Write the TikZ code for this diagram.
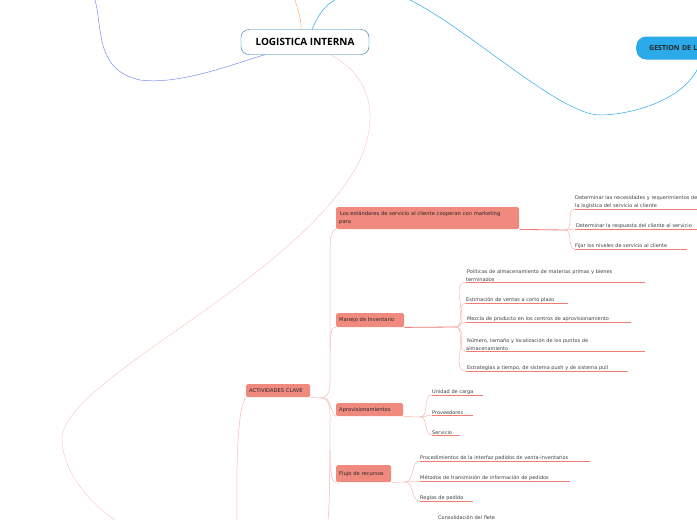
\documentclass[tikz,border=0pt]{standalone}
\usepackage{fontspec}
\setmainfont{DejaVu Sans}
\newfontfamily\titlefont{Open Sans}
\begin{document}
\begin{tikzpicture}[x=1pt,y=-1pt,
  box/.style={fill=salm,rounded corners=1.5pt,inner xsep=3pt,inner ysep=0pt,anchor=north west,font=\fontsize{5.2}{8}\selectfont,align=left,text=black!85},
  leaf/.style={inner sep=0pt,anchor=south west,font=\fontsize{5}{8.5}\selectfont,align=left,text=black!75},
  uline/.style={draw=salm!90!red,line width=0.8pt},
  conn/.style={draw=salm!60,line width=0.5pt},
  thin/.style={draw=salm!50,line width=0.4pt}]
\definecolor{salm}{HTML}{F08A7E}
\definecolor{bl}{HTML}{2AAAE8}
\definecolor{pb}{HTML}{7C8EF0}
\useasboundingbox (0,0) rectangle (697,520);
\fill[white] (0,0) rectangle (697,520);
% top
\node[draw=bl!70!black,fill=white,rounded corners=8pt,minimum width=128pt,minimum height=25pt,font=\titlefont\bfseries\fontsize{10}{12}\selectfont] (li) at (305,42) {LOGISTICA INTERNA};
\node[fill=bl,rounded corners=10pt,anchor=west,minimum height=23pt,minimum width=80pt,font=\titlefont\bfseries\fontsize{7}{8}\selectfont,text=black!85,align=left,text width=66pt] (gd) at (636,48) {\hspace*{6pt}GESTION DE LA};
\coordinate (t1) at (95,0); \coordinate (t2) at (295,0); \coordinate (t3) at (335,0); \coordinate (t4) at (410,0);
\draw[pb,line width=0.5pt] (t1) .. controls (103,30) and (95,70) .. (140,80) .. controls (180,85) and (230,65) .. ([xshift=-40pt]li.south);
\draw[orange!60,line width=0.5pt] (t2) .. controls (298,10) and (302,22) .. ([xshift=-4pt]li.north);
\draw[bl,line width=0.5pt] ([xshift=7pt]li.north) .. controls (318,15) and (325,5) .. (t3);
\draw[bl,line width=0.5pt] (t4) .. controls (470,30) and (560,115) .. (600,115) .. controls (630,115) and (690,100) .. ([xshift=25pt]gd.south);
\coordinate (low) at (115,520);
\draw[thin] ([xshift=25pt]li.south) .. controls (370,75) and (380,115) .. (360,160) .. controls (300,280) and (60,380) .. (62,440) .. controls (64,480) and (100,510) .. (low);
% main
\node[box,text width=58pt,minimum height=13pt] (ac) at (246,384) {ACTIVIDADES CLAVE};
\coordinate (acb) at (237,520);
\draw[conn] (ac.south west) .. controls (238,405) and (236,460) .. (acb);
\coordinate (tr) at (328,520);
\node[box,text width=177pt,minimum height=22pt] (b1) at (336,207) {\,Los estándares de servicio al cliente cooperan con marketing\\para};
\node[box,text width=62pt,minimum height=14pt] (b2) at (336,313) {Manejo de Inventario};
\node[box,text width=61pt,minimum height=13pt] (b3) at (336,403) {Aprovisionamientos};
\node[box,text width=49pt,minimum height=17pt] (b4) at (336,465) {Flujo de recursos};
\draw[conn] (ac.south east) -- (320,398) .. controls (328,398) and (330,392) .. (330,380) -- (330,250) .. controls (330,235) and (332,230) .. (b1.south west);
\draw[conn] (330,350) .. controls (330,330) and (332,327) .. (b2.south west);
\draw[conn] (320,398) .. controls (328,398) and (330,404) .. (330,415) .. controls (330,430) and (330,505) .. (tr);
\draw[conn] (325,398) .. controls (330,398) and (332,416) .. (b3.south west);
\draw[conn] (330,450) .. controls (330,475) and (332,482) .. (b4.south west);
% leaves b1
\node[leaf,text width=170pt] (l11) at (575,209) {Determinar las necesidades y requerimientos de\\la logistica del servicio al cliente};
\node[leaf,text width=170pt] (l12) at (575,229) {\,Determinar la respuesta del cliente al servicio};
\node[leaf,text width=112pt] (l13) at (575,249) {Fijar los niveles de servicio al cliente};
\coordinate (c1) at (565,230);
\draw[uline] (b1.south east) -- (c1);
\foreach \l in {l11,l12,l13}{\draw[conn] (c1) to[out=0,in=180] (\l.south west); \draw[uline] (\l.south west) -- (\l.south east);}
% leaves b2
\node[leaf,text width=179pt] (l21) at (466,282) {\,Políticas de almacenamiento de materias primas y bienes\\terminados};
\node[leaf,text width=102pt] (l22) at (466,303) {Estimación de ventas a corto plazo};
\node[leaf,text width=165pt] (l23) at (466,322) {\,Mezcla de producto en los centros de aprovisionamiento};
\node[leaf,text width=179pt] (l24) at (466,351) {\,Número, tamaño y localización de los puntos de\\almacenamiento};
\node[leaf,text width=162pt] (l25) at (466,371) {\,Estrategias a tiempo, de sistema push y de sistema pull};
\coordinate (c2) at (455,327);
\draw[uline] (b2.south east) -- (c2);
\foreach \l in {l21,l22,l23,l24,l25}{\draw[conn] (c2) to[out=0,in=180] (\l.south west); \draw[uline] (\l.south west) -- (\l.south east);}
% leaves b3
\node[leaf,text width=51pt] (l31) at (432,395) {Unidad de carga};
\node[leaf,text width=41pt] (l32) at (432,415) {Proveedores};
\node[leaf,text width=28pt] (l33) at (432,435) {Servicio};
\coordinate (c3) at (420,417);
\draw[conn] (b3.south east) -- (c3);
\foreach \l in {l31,l32,l33}{\draw[conn] (c3) to[out=0,in=180] (\l.south west); \draw[uline] (\l.south west) -- (\l.south east);}
% leaves b4
\node[leaf,text width=170pt] (l41) at (420,461) {Procedimientos de la interfaz pedidos de venta-inventarios};
\node[leaf,text width=150pt] (l42) at (420,481) {Métodos de transmisión de información de pedidos};
\node[leaf,text width=53pt] (l43) at (420,501) {Reglas de pedido};
\coordinate (c4) at (405,482);
\draw[conn] (b4.south east) -- (c4);
\foreach \l in {l41,l42,l43}{\draw[conn] (c4) to[out=0,in=180] (\l.south west); \draw[uline] (\l.south west) -- (\l.south east);}
\node[leaf,anchor=north west] (l51) at (438,515) {Consolidación del flete};
\end{tikzpicture}
\end{document}
